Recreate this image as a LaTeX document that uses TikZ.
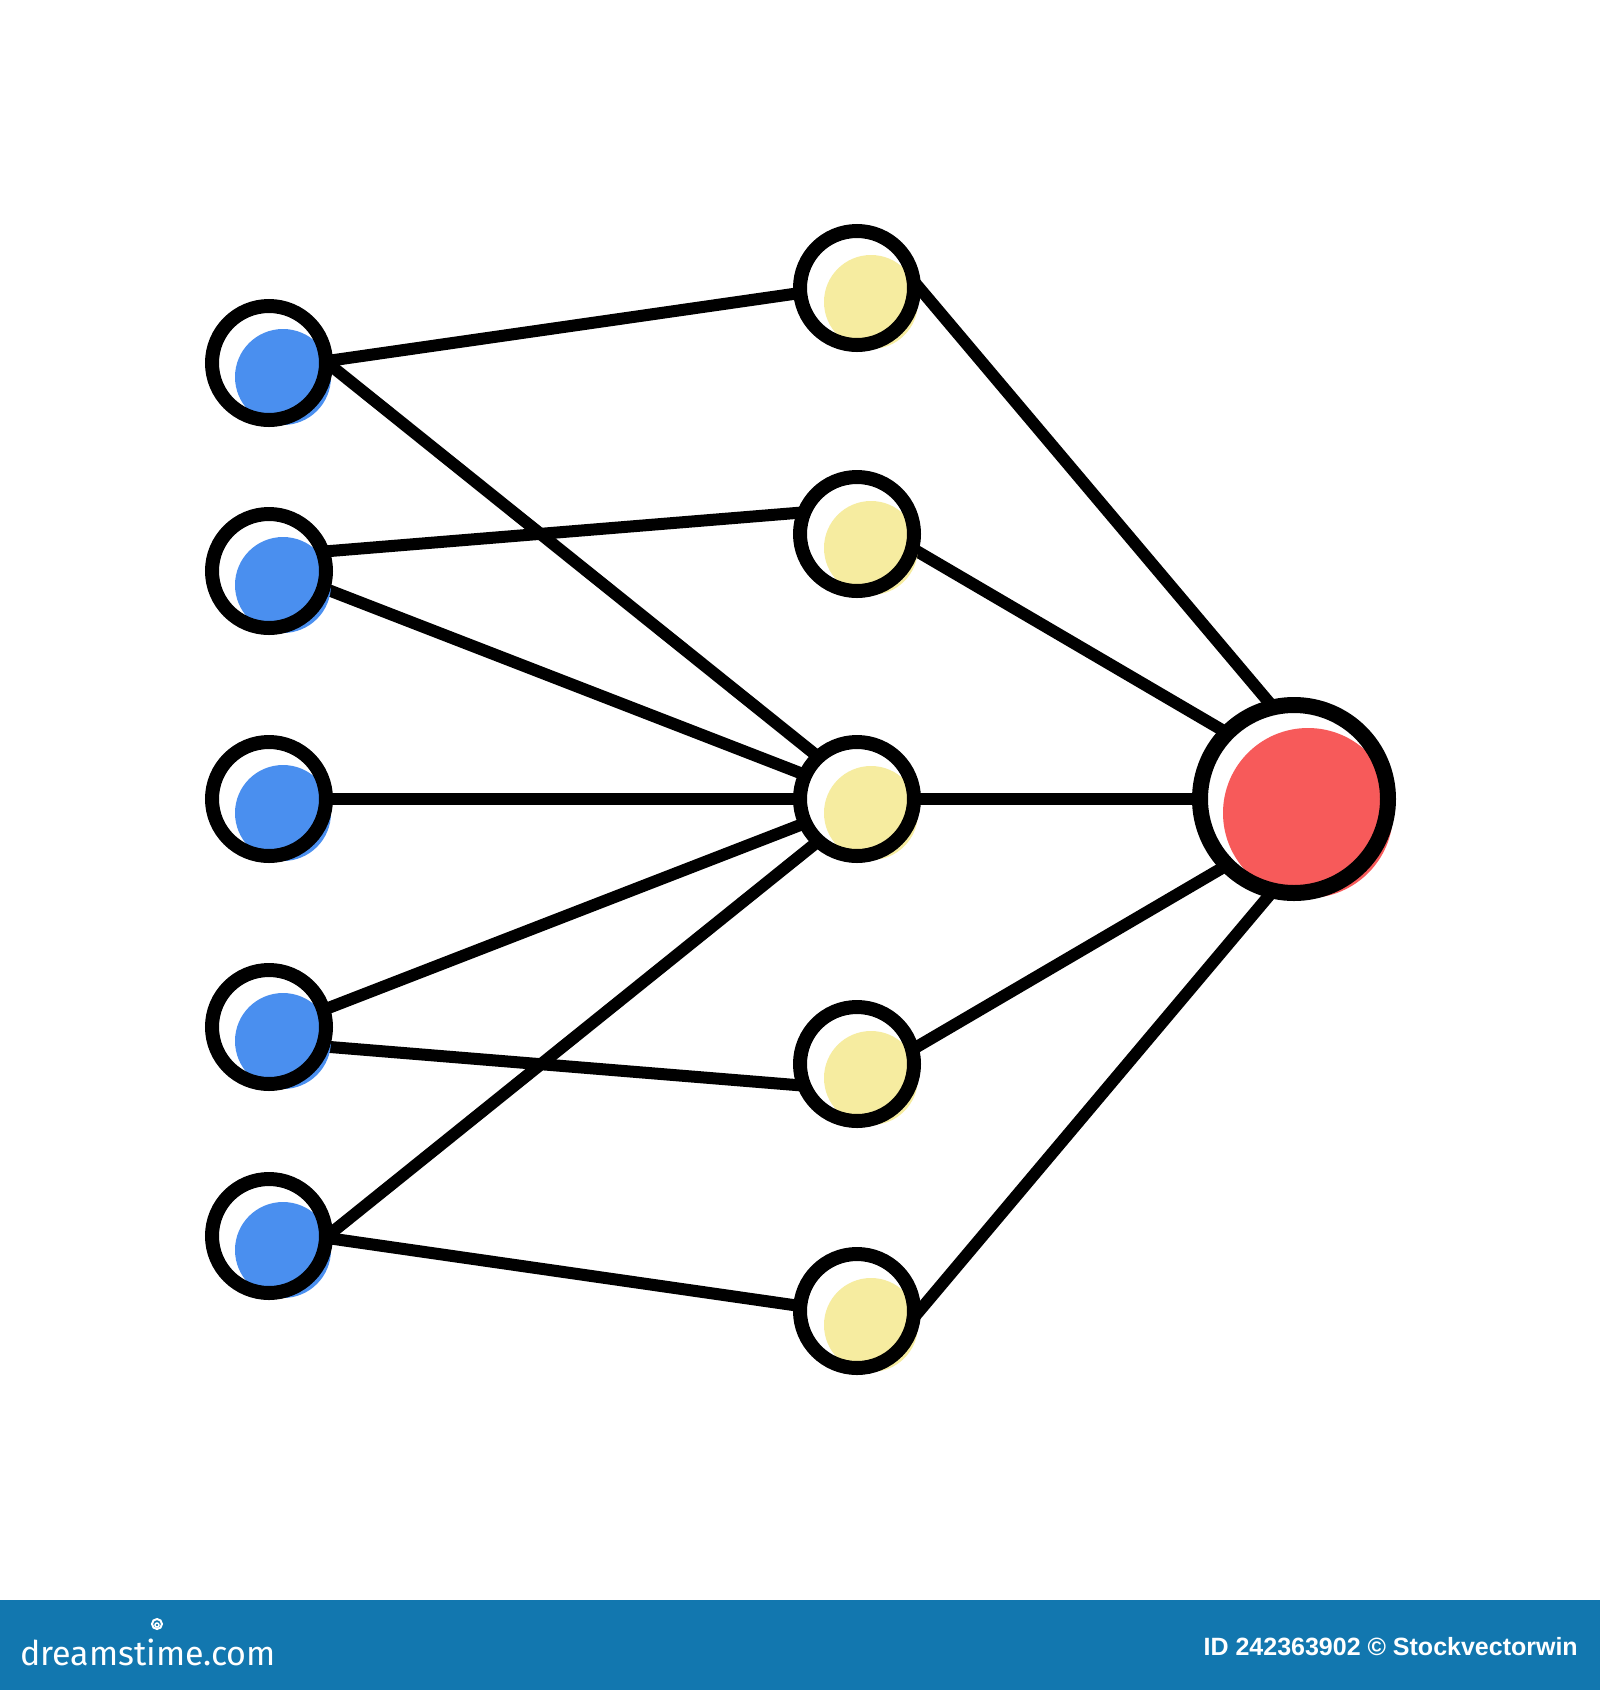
\documentclass[tikz,border=0pt]{standalone}
\usepackage{fontspec}
\usetikzlibrary{calc,backgrounds}
\setmainfont{Liberation Sans}
\newfontfamily\logofont{Fira Sans}
\definecolor{nblue}{RGB}{74,143,239}
\definecolor{nyellow}{RGB}{246,236,160}
\definecolor{nred}{RGB}{247,90,90}
\definecolor{banner}{RGB}{18,119,175}
\begin{document}
\begin{tikzpicture}[x=1pt,y=-1pt,
  edge/.style={line width=12pt},
  ring/.style={circle,draw=black,line width=14pt,minimum size=114pt,inner sep=0pt},
  bigring/.style={circle,draw=black,line width=16pt,minimum size=188pt,inner sep=0pt}]
\useasboundingbox (0,0) rectangle (1600,1690);
% node positions
\coordinate (b1) at (269,363);
\coordinate (b2) at (269,571);
\coordinate (b3) at (269,799);
\coordinate (b4) at (269,1027);
\coordinate (b5) at (269,1236);
\coordinate (y1) at (857,288);
\coordinate (y2) at (857,534);
\coordinate (y3) at (857,799);
\coordinate (y4) at (857,1064);
\coordinate (y5) at (857,1311);
\coordinate (r) at (1294,799);
% nodes
\foreach \i in {1,...,5} {
  \fill[white] (b\i) circle (57);
  \fill[nblue] ($(b\i)+(14,14)$) circle (48);
  \node[ring] (B\i) at (b\i) {};
  \fill[white] (y\i) circle (57);
  \fill[nyellow] ($(y\i)+(14,14)$) circle (47);
  \node[ring] (Y\i) at (y\i) {};
}
\fill[white] (r) circle (94);
\fill[nred] ($(r)+(14,14)$) circle (85);
\node[bigring] (R) at (r) {};
% edges
\begin{scope}[on background layer]
\fill[white] (0,0) rectangle (1600,1690);
\draw[edge] ($(B1.center)+(0,6.4)$) -- ($(Y1.center)+(0,-3.2)$);
\draw[edge] ($(B1.center)+(0,-47)$) -- ($(Y3.center)+(0,-11)$);
\draw[edge] ($(B2.center)+(0,-15)$) -- ($(Y2.center)+(0,-26)$);
\draw[edge] ($(B2.center)+(0,-4)$) -- ($(Y3.center)+(0,-4)$);
\draw[edge] (B3.center) -- (Y3.center);
\draw[edge] ($(B4.center)+(0,4)$) -- ($(Y3.center)+(0,4)$);
\draw[edge] ($(B4.center)+(0,15)$) -- ($(Y4.center)+(0,26)$);
\draw[edge] ($(B5.center)+(0,47)$) -- ($(Y3.center)+(0,11)$);
\draw[edge] ($(B5.center)+(0,-6.4)$) -- ($(Y5.center)+(0,3.2)$);
\draw[edge] ($(Y1.center)+(54.3,-9.5)$) -- ($(R.center)+(-17.3,-87.5)$);
\draw[edge] ($(Y2.center)+(50,11.4)$) -- ($(R.center)+(-64,-64.4)$);
\draw[edge] (Y3.center) -- (R.center);
\draw[edge] ($(Y4.center)+(50,-11.4)$) -- ($(R.center)+(-64,64.4)$);
\draw[edge] ($(Y5.center)+(54.3,9.5)$) -- ($(R.center)+(-17.3,87.5)$);
\end{scope}
% banner
\fill[banner] (0,1600) rectangle (1600,1690);
\node[anchor=west,text=white,font=\logofont\fontsize{34}{34}\selectfont,inner sep=0pt] (logo) at (20,1652) {dreamstime.com};
\draw[white,line width=2pt] (157,1624) circle (5);
\draw[white,line width=1.5pt] (157,1625) circle (2);
\node[anchor=east,text=white,font=\bfseries\fontsize{25}{25}\selectfont,inner sep=0pt] (id) at (1578,1647) {ID 242363902 © Stockvectorwin};
\end{tikzpicture}
\end{document}
